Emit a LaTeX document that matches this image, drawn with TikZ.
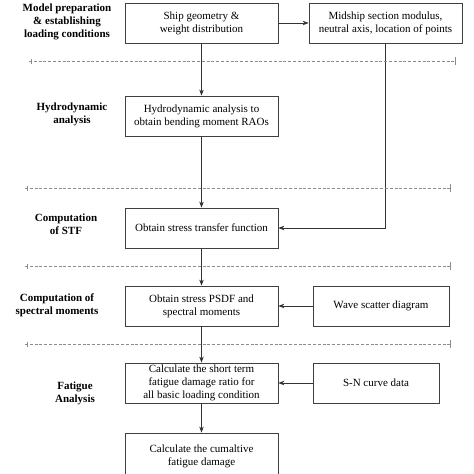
\documentclass[tikz,border=0pt]{standalone}
\usepackage{fontspec}
\setmainfont{Liberation Serif}
\usetikzlibrary{arrows.meta}
\begin{document}
\begin{tikzpicture}[x=1pt,y=-1pt,
  box/.style={draw=black!75, line width=0.8pt, minimum height=40pt, inner sep=1pt, align=center,
    font=\fontsize{11}{13}\selectfont},
  lab/.style={align=center, font=\fontsize{11}{13}\selectfont\bfseries},
  conn/.style={draw=black!80, line width=0.7pt, -{Stealth[length=6pt,width=4.5pt]}},
  sep/.style={draw=black!45, line width=0.6pt, dash pattern=on 3pt off 1.8pt},
  tick/.style={draw=black!45, line width=0.7pt}]
\useasboundingbox (0,0) rectangle (474,474);
\clip (0,0) rectangle (474,474);
\fill[white] (0,0) rectangle (474,474);
% boxes
\node[box, minimum width=153pt] (b1) at (201.5,23) {Ship geometry \&\\weight distribution};
\node[box, minimum width=153pt] (b2) at (385.5,23) {Midship section modulus,\\neutral axis, location of points};
\node[box, minimum width=153pt] (b3) at (201.5,116) {Hydrodynamic analysis to\\obtain bending moment RAOs};
\node[box, minimum width=153pt] (b4) at (201.5,228) {Obtain stress transfer function};
\node[box, minimum width=153pt] (b5) at (201.5,306) {Obtain stress PSDF and\\spectral moments};
\node[box, minimum width=136pt] (b6) at (381,306) {Wave scatter diagram};
\node[box, minimum width=153pt] (b7) at (201.5,383) {Calculate the short term\\fatigue damage ratio for\\all basic loading condition};
\node[box, minimum width=126pt] (b8) at (376,383) {S-N curve data};
\node[box, minimum width=153pt, minimum height=44pt, text depth=0pt] (b9) at (201.5,455) {Calculate the cumaltive\\fatigue damage};
% labels
\node[lab] (l1) at (67,22) {Model preparation\\\& establishing\\loading conditions};
\node[lab] (l2) at (72,114) {Hydrodynamic\\analysis};
\node[lab] (l3) at (66,224) {Computation\\of STF};
\node[lab] (l4) at (57,305) {Computation of\\spectral moments};
\node[lab] (l5) at (75,393) {Fatigue\\Analysis};
% connectors
\draw[conn] (b1) -- (b2);
\draw[conn] (b1) -- (b3);
\draw[conn] (b3) -- (b4);
\draw[conn] (b2.south) |- (b4.east);
\draw[conn] (b4) -- (b5);
\draw[conn] (b6) -- (b5);
\draw[conn] (b5) -- (b7);
\draw[conn] (b8) -- (b7);
\draw[conn] (b7) -- (b9);
% separators
\foreach \y/\a/\b in {61/29/455, 188/25/450, 266/25/450, 344/25/450}{
  \draw[sep] (\a,\y) -- (\b,\y);
  \draw[tick] (\a+2,\y-2.5) -- (\a+2,\y+2.5);
  \draw[tick] (\b,\y-4) -- (\b,\y+4);
}
\end{tikzpicture}
\end{document}
